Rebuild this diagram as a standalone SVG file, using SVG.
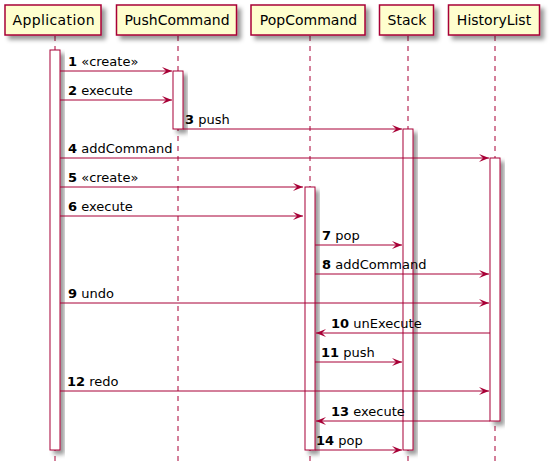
<svg xmlns="http://www.w3.org/2000/svg" width="552" height="474" viewBox="0 0 552 474">
<defs>
<filter id="sh" x="-50%" y="-50%" width="200%" height="200%">
<feGaussianBlur in="SourceAlpha" stdDeviation="2" result="b"/>
<feColorMatrix in="b" type="matrix" values="0 0 0 0 0 0 0 0 0 0 0 0 0 0 0 0 0 0 .4 0" result="b2"/>
<feOffset in="b2" dx="4" dy="4" result="b3"/>
<feBlend in="SourceGraphic" in2="b3" mode="normal"/>
</filter>
<marker id="ah" markerUnits="userSpaceOnUse" markerWidth="10" markerHeight="8" refX="10" refY="4" orient="auto" overflow="visible">
<path d="M0,0 L10,4 L0,8 L4,4 Z" fill="#A80036"/>
</marker>
<style>
.ll{stroke:#A80036;stroke-width:1;stroke-dasharray:5,5;fill:none}
.pbox{fill:#FEFECE;stroke:#A80036;stroke-width:1.5;filter:url(#sh)}
.act{fill:#FFFFFF;stroke:#A80036;stroke-width:1;filter:url(#sh)}
.pt{font-family:"DejaVu Sans",sans-serif;font-size:14px;fill:#000;text-anchor:middle}
.msg{stroke:#A80036;stroke-width:1;fill:none;marker-end:url(#ah)}
.mt{font-family:"DejaVu Sans",sans-serif;font-size:13px;fill:#000}
.mt tspan.n{font-weight:bold}
</style>
</defs>
<rect width="552" height="474" fill="#FFFFFF"/>
<g id="lifelines">
<line class="ll" x1="55" y1="36" x2="55" y2="466"/>
<line class="ll" x1="178" y1="36" x2="178" y2="466"/>
<line class="ll" x1="310" y1="36" x2="310" y2="466"/>
<line class="ll" x1="408" y1="36" x2="408" y2="466"/>
<line class="ll" x1="495" y1="36" x2="495" y2="466"/>
</g>
<g id="Application">
<rect class="pbox" x="5" y="5" width="96" height="30"/>
<text class="pt" x="53.5" y="25" textLength="82" lengthAdjust="spacing">Application</text>
<rect class="act" x="50" y="50" width="10" height="400"/>
</g>
<g id="PushCommand">
<rect class="pbox" x="116.5" y="5" width="120" height="30"/>
<text class="pt" x="177" y="25">PushCommand</text>
<rect class="act" x="173" y="71" width="10" height="58"/>
</g>
<g id="PopCommand">
<rect class="pbox" x="251" y="5" width="114" height="30"/>
<text class="pt" x="308.5" y="25">PopCommand</text>
<rect class="act" x="305" y="187" width="10" height="263"/>
</g>
<g id="Stack">
<rect class="pbox" x="379.5" y="5" width="54" height="30"/>
<text class="pt" x="407" y="25">Stack</text>
<rect class="act" x="403" y="129" width="10" height="321"/>
</g>
<g id="HistoryList">
<rect class="pbox" x="448.5" y="5" width="91" height="30"/>
<text class="pt" x="494" y="25">HistoryList</text>
<rect class="act" x="490" y="158" width="10" height="263"/>
</g>
<g id="connectors">
<line class="msg" x1="60" y1="71" x2="172" y2="71"/>
<text class="mt" x="68" y="66"><tspan class="n">1</tspan> «create»</text>
<line class="msg" x1="60" y1="100" x2="172" y2="100"/>
<text class="mt" x="68" y="95"><tspan class="n">2</tspan> execute</text>
<line class="msg" x1="183" y1="129" x2="402" y2="129"/>
<text class="mt" x="185" y="124"><tspan class="n">3</tspan> push</text>
<line class="msg" x1="60" y1="158" x2="489" y2="158"/>
<text class="mt" x="68" y="153"><tspan class="n">4</tspan> addCommand</text>
<line class="msg" x1="60" y1="187" x2="303" y2="187"/>
<text class="mt" x="68" y="182"><tspan class="n">5</tspan> «create»</text>
<line class="msg" x1="60" y1="216" x2="303" y2="216"/>
<text class="mt" x="68" y="211"><tspan class="n">6</tspan> execute</text>
<line class="msg" x1="315" y1="245" x2="402" y2="245"/>
<text class="mt" x="322" y="240"><tspan class="n">7</tspan> pop</text>
<line class="msg" x1="315" y1="274" x2="489" y2="274"/>
<text class="mt" x="322" y="269"><tspan class="n">8</tspan> addCommand</text>
<line class="msg" x1="60" y1="303" x2="489" y2="303"/>
<text class="mt" x="68" y="298"><tspan class="n">9</tspan> undo</text>
<line class="msg" x1="490" y1="333" x2="316" y2="333"/>
<text class="mt" x="331" y="328"><tspan class="n">10</tspan> unExecute</text>
<line class="msg" x1="315" y1="362" x2="402" y2="362"/>
<text class="mt" x="321" y="357"><tspan class="n">11</tspan> push</text>
<line class="msg" x1="60" y1="391" x2="489" y2="391"/>
<text class="mt" x="67" y="386"><tspan class="n">12</tspan> redo</text>
<line class="msg" x1="490" y1="421" x2="316" y2="421"/>
<text class="mt" x="331" y="416"><tspan class="n">13</tspan> execute</text>
<line class="msg" x1="315" y1="450" x2="402" y2="450"/>
<text class="mt" x="316" y="445"><tspan class="n">14</tspan> pop</text>
</g>
</svg>
